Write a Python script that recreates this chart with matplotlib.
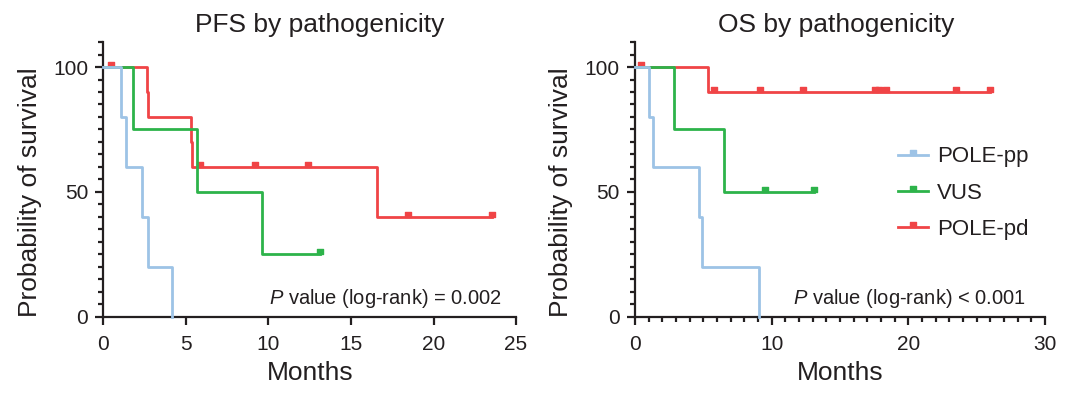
import numpy as np
import matplotlib
matplotlib.use("Agg")
import matplotlib.pyplot as plt
from matplotlib.path import Path
from matplotlib.ticker import MultipleLocator
from matplotlib.lines import Line2D

plt.rcParams["font.family"] = ["Liberation Sans", "DejaVu Sans"]
plt.rcParams["mathtext.fontset"] = "custom"
plt.rcParams["mathtext.rm"] = "Liberation Sans"
plt.rcParams["mathtext.it"] = "Liberation Sans:italic"

groups = ["POLE-pp", "VUS", "POLE-pd"]
colors = {"POLE-pp": "#9dc3e6", "VUS": "#2db34a", "POLE-pd": "#f04446"}
ink = "#231f20"

# PFS: step times (months), survival (%) after each step, censor times
pfs_pp_t = [0, 1.06, 1.35, 2.35, 2.72, 4.17]
pfs_pp_s = [100, 80, 60, 40, 20, 0]
pfs_pp_c = []
pfs_vus_t = [0, 1.77, 5.65, 9.6, 13.1]
pfs_vus_s = [100, 75, 50, 25, 25]
pfs_vus_c = [13.1]
pfs_pd_t = [0, 2.62, 2.72, 5.28, 5.38, 16.56, 23.53]
pfs_pd_s = [100, 90, 80, 70, 60, 40, 40]
pfs_pd_c = [0.45, 5.85, 9.18, 12.38, 18.47, 23.53]

# OS
os_pp_t = [0, 1.05, 1.29, 4.65, 4.9, 9.09]
os_pp_s = [100, 80, 60, 40, 20, 0]
os_pp_c = []
os_vus_t = [0, 2.87, 6.5, 13.1]
os_vus_s = [100, 75, 50, 50]
os_vus_c = [9.53, 13.1]
os_pd_t = [0, 5.32, 26.0]
os_pd_s = [100, 90, 90]
os_pd_c = [0.44, 5.8, 9.14, 12.3, 17.6, 17.85, 18.4, 23.46, 26.0]

pfs = {"POLE-pp": (pfs_pp_t, pfs_pp_s, pfs_pp_c),
       "VUS": (pfs_vus_t, pfs_vus_s, pfs_vus_c),
       "POLE-pd": (pfs_pd_t, pfs_pd_s, pfs_pd_c)}
os_ = {"POLE-pp": (os_pp_t, os_pp_s, os_pp_c),
       "VUS": (os_vus_t, os_vus_s, os_vus_c),
       "POLE-pd": (os_pd_t, os_pd_s, os_pd_c)}

# censor mark: small box sitting on top of the line
tick_mark = Path([(-0.5, 0), (0.5, 0), (0.5, 0.8), (-0.5, 0.8), (-0.5, 0)],
                 [Path.MOVETO, Path.LINETO, Path.LINETO, Path.LINETO, Path.CLOSEPOLY])

fig = plt.figure(figsize=(10.69, 3.98), dpi=100)
ax1 = fig.add_axes([0.0968, 0.2043, 0.3859, 0.690])
ax2 = fig.add_axes([0.594, 0.2043, 0.3835, 0.690])


def draw_km(ax, data):
    for z, g in zip([3, 2, 1], groups):
        t, s, c = data[g]
        ax.step(t, s, where="post", color=colors[g], lw=2.0, zorder=z, clip_on=False)
        if c:
            idx = np.searchsorted(t, c, side="right") - 1
            ax.plot(c, np.array(s)[idx], ls="none", marker=tick_mark, ms=7,
                    color=colors[g], zorder=z, clip_on=False)


def style(ax, xmax, xmajor, xminor, label_x):
    ax.set_xlim(0, xmax)
    ax.set_ylim(0, 110)
    ax.spines["top"].set_visible(False)
    ax.spines["right"].set_visible(False)
    for sp in ("left", "bottom"):
        ax.spines[sp].set_linewidth(1.6)
        ax.spines[sp].set_color(ink)
    ax.xaxis.set_major_locator(MultipleLocator(xmajor))
    if xminor:
        ax.xaxis.set_minor_locator(MultipleLocator(xminor))
    ax.set_yticks([0, 50, 100])
    ax.yaxis.set_minor_locator(MultipleLocator(5))
    ax.tick_params(which="major", length=6, width=1.6, color=ink, labelsize=15,
                   labelcolor=ink, pad=5)
    ax.tick_params(axis="x", which="major", pad=7)
    ax.tick_params(which="minor", length=3.5, width=1.6, color=ink)
    ax.set_xlabel("Months", fontsize=19, color=ink, labelpad=5)
    ax.set_ylabel("Probability of survival", fontsize=19, color=ink)
    # label is centred on the 0-100 range, not the whole axis
    ax.yaxis.set_label_coords(label_x, 50 / 110)


draw_km(ax1, pfs)
style(ax1, 25, 5, None, -0.150)
ax1.set_title("PFS by pathogenicity", fontsize=19, color=ink, x=0.525, pad=7)
ax1.text(0.965, 0.066, "$P$ value (log-rank) = 0.002", transform=ax1.transAxes,
         ha="right", va="center", fontsize=14.5, color=ink)

draw_km(ax2, os_)
style(ax2, 30, 10, 1, -0.151)
ax2.set_title("OS by pathogenicity", fontsize=19, color=ink, x=0.491, pad=7)
ax2.text(0.954, 0.066, "$P$ value (log-rank) < 0.001", transform=ax2.transAxes,
         ha="right", va="center", fontsize=14.5, color=ink)

handles = [Line2D([], [], color=colors[g], lw=2.0, marker=tick_mark, ms=7) for g in groups]
leg = ax2.legend(handles, groups, loc="center left", bbox_to_anchor=(0.641, 0.45),
                 frameon=False, fontsize=16, handlelength=1.36, handletextpad=0.4,
                 labelspacing=0.68, borderpad=0, borderaxespad=0)
for txt in leg.get_texts():
    txt.set_color(ink)

fig.savefig("out.png", dpi=100)
